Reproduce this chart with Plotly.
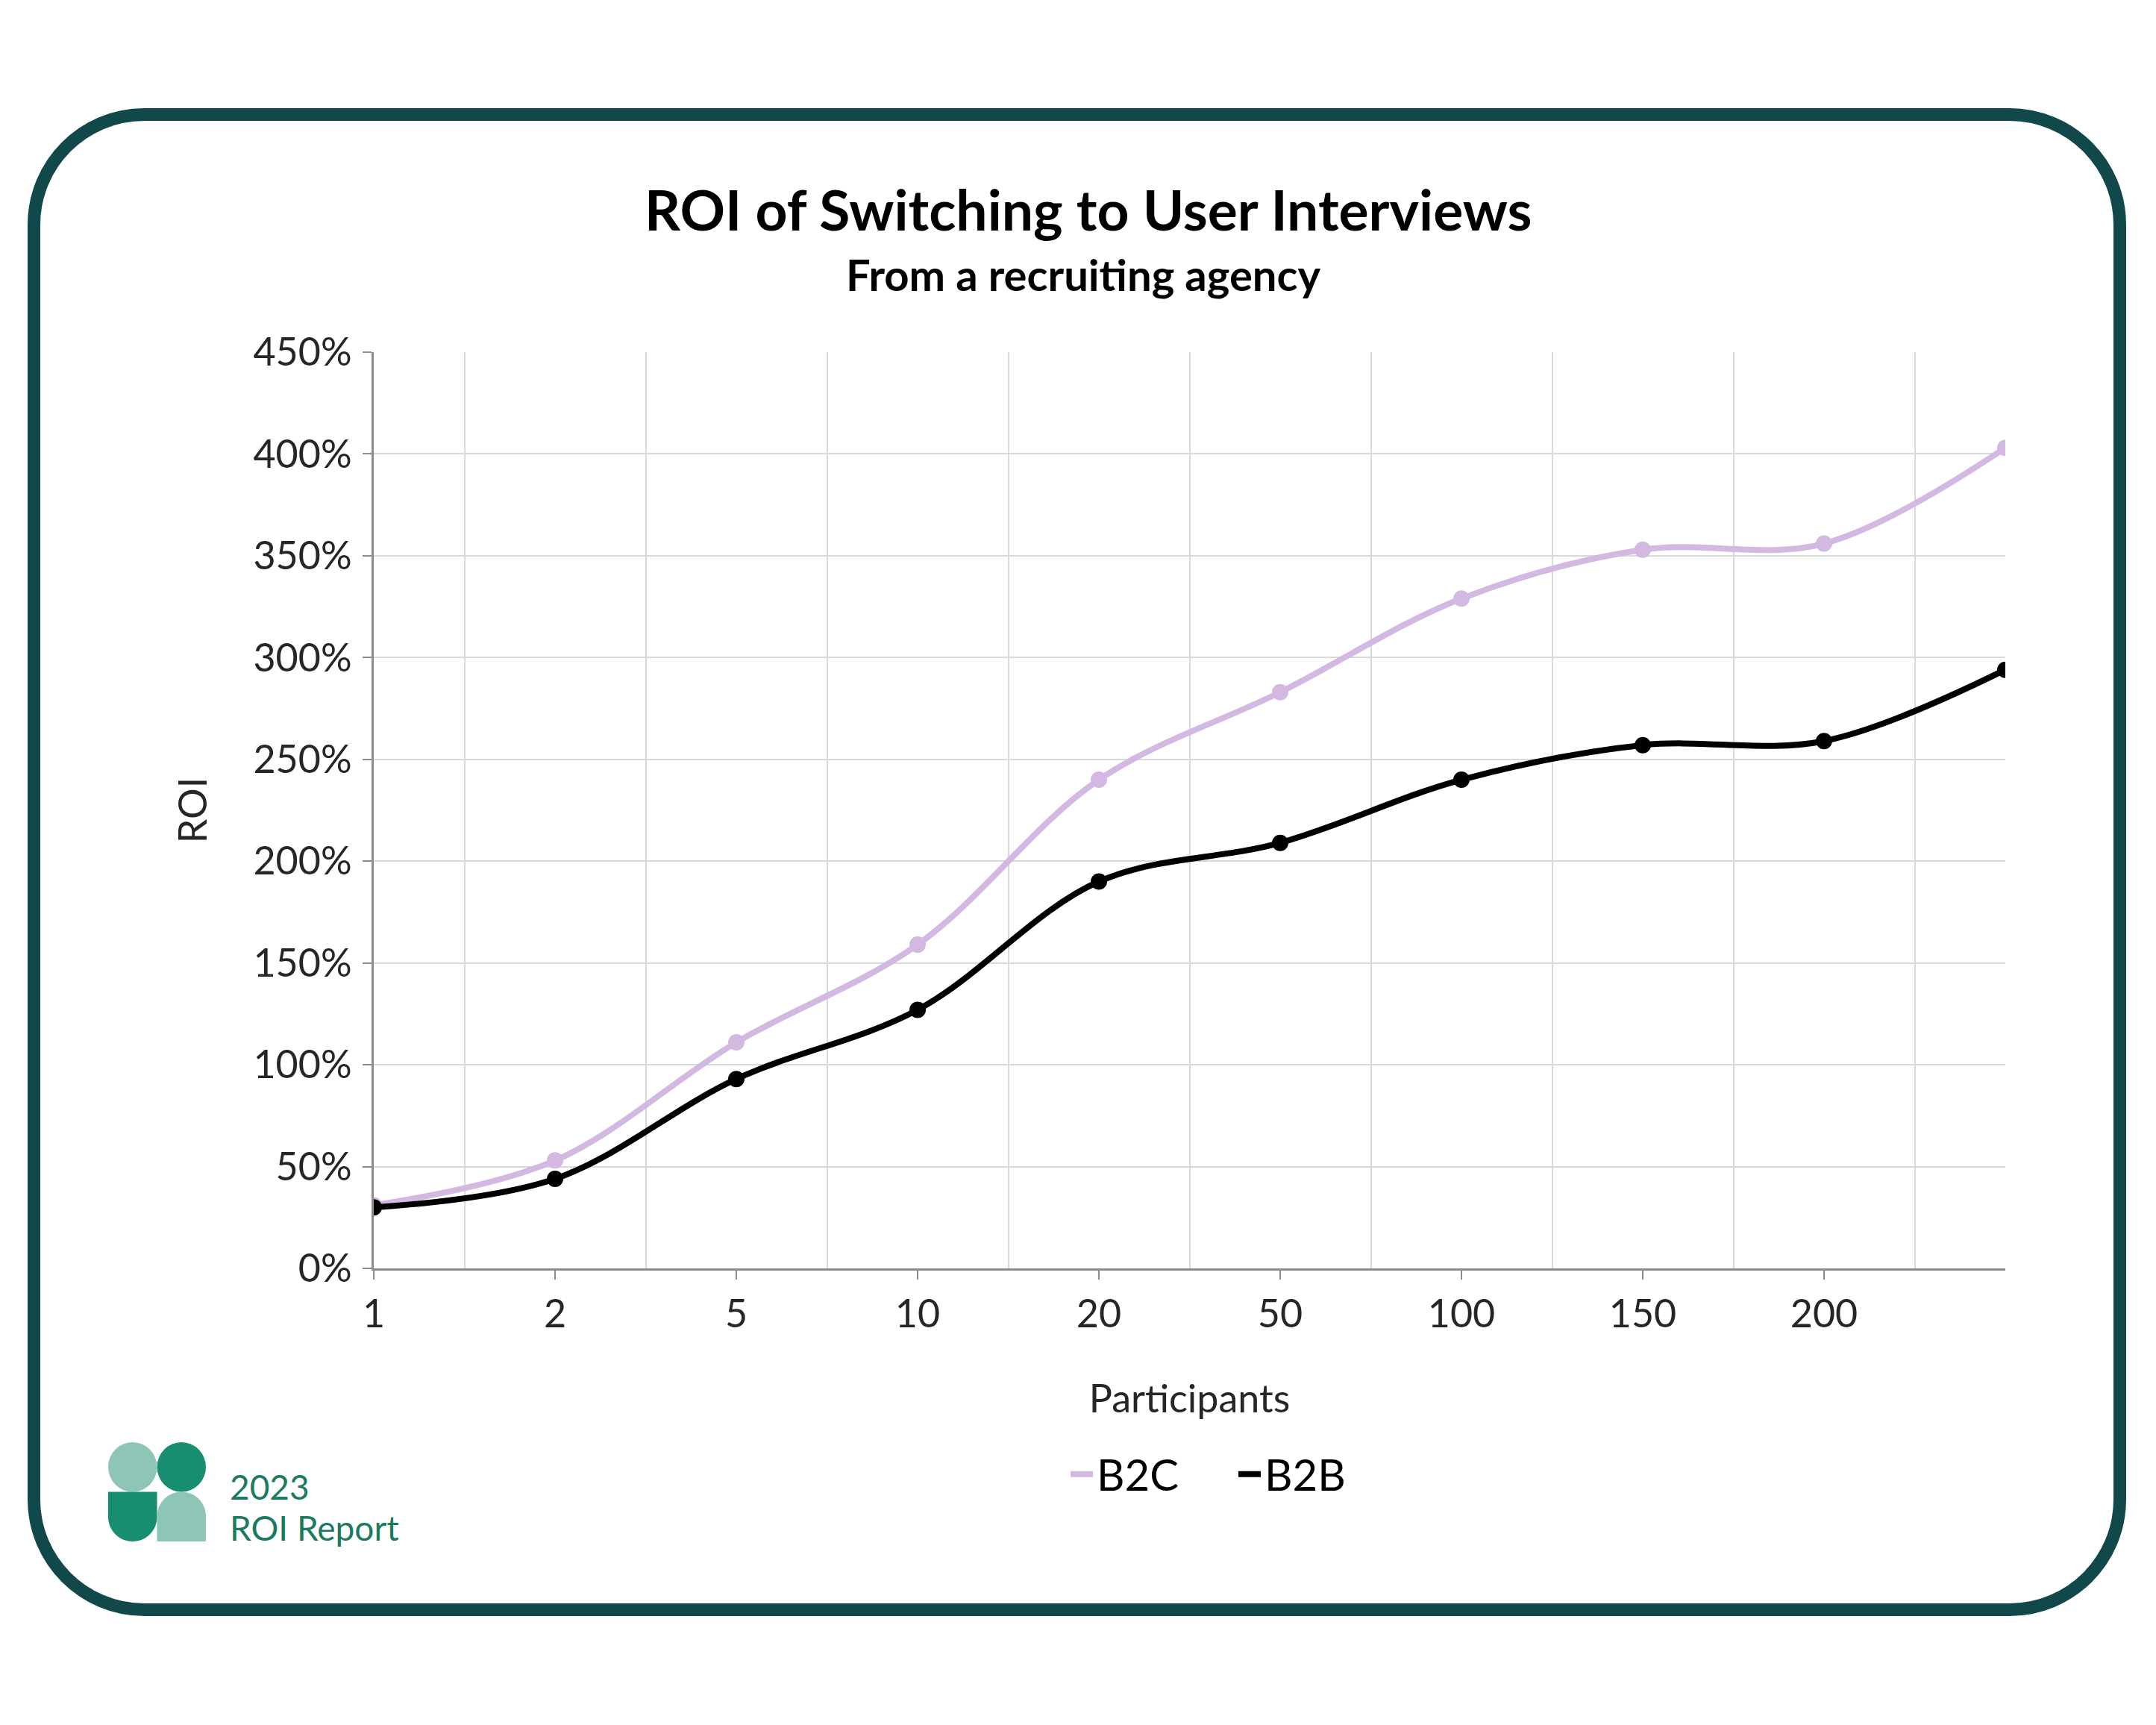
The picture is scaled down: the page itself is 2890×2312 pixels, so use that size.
import plotly.graph_objects as go

# ---- data ----
participants = ["1", "2", "5", "10", "20", "50", "100", "150", "200"]
positions = [0, 1, 2, 3, 4, 5, 6, 7, 8, 9]
b2c = [31, 53, 111, 159, 240, 283, 329, 353, 356, 403]
b2b = [30, 44, 93, 127, 190, 209, 240, 257, 259, 294]
y_ticks = [0, 50, 100, 150, 200, 250, 300, 350, 400, 450]

PURPLE = "#d3b9e2"
BLACK = "#000000"
TEAL = "#11484a"
LOGO_LIGHT = "#8dc6b6"
LOGO_DARK = "#178e6f"
FONT = "Lato"

WIDTH, HEIGHT = 2890, 2312
L, R, T, B = 501, 2688, 472, 1700
W, H = R - L, B - T


def px(x):
    return (x - L) / W


def py(y):
    return (B - y) / H


def P(x, y):
    return f"{px(x):.5f},{py(y):.5f}"


def rounded_rect(x0, y0, x1, y1, r):
    k = 0.5523 * r
    return (
        f"M{P(x0 + r, y0)} L{P(x1 - r, y0)} "
        f"C{P(x1 - r + k, y0)} {P(x1, y0 + r - k)} {P(x1, y0 + r)} "
        f"L{P(x1, y1 - r)} "
        f"C{P(x1, y1 - r + k)} {P(x1 - r + k, y1)} {P(x1 - r, y1)} "
        f"L{P(x0 + r, y1)} "
        f"C{P(x0 + r - k, y1)} {P(x0, y1 - r + k)} {P(x0, y1 - r)} "
        f"L{P(x0, y0 + r)} "
        f"C{P(x0, y0 + r - k)} {P(x0 + r - k, y0)} {P(x0 + r, y0)} Z"
    )


fig = go.Figure()
for name, vals, color in [("B2C", b2c, PURPLE), ("B2B", b2b, BLACK)]:
    fig.add_trace(go.Scatter(
        x=positions, y=vals, name=name, mode="lines", legendgroup=name,
        line=dict(color=color, width=8, shape="spline", smoothing=1),
    ))
    fig.add_trace(go.Scatter(
        x=positions, y=vals, name=name, mode="markers", legendgroup=name,
        showlegend=False, marker=dict(size=22, color=color),
    ))

shapes = []
# outer rounded border
shapes.append(dict(type="path", xref="paper", yref="paper",
                   path=rounded_rect(45.5, 153.5, 2841.5, 2157.5, 148),
                   line=dict(color=TEAL, width=17), fillcolor="rgba(0,0,0,0)"))

# logo
cx_l0, cx_l1, cx_r1 = 145, 210.5, 276
cy_top, cy_mid, cy_bot = 1933, 1999.5, 2066
shapes.append(dict(type="circle", xref="paper", yref="paper",
                   x0=px(cx_l0), x1=px(cx_l1), y0=py(cy_mid), y1=py(cy_top),
                   fillcolor=LOGO_LIGHT, line=dict(width=0)))
shapes.append(dict(type="circle", xref="paper", yref="paper",
                   x0=px(cx_l1), x1=px(cx_r1), y0=py(cy_mid), y1=py(cy_top),
                   fillcolor=LOGO_DARK, line=dict(width=0)))
r = (cx_l1 - cx_l0) / 2
k = 0.5523 * r
mx = (cx_l0 + cx_l1) / 2
u_path = (f"M{P(cx_l0, cy_mid)} L{P(cx_l1, cy_mid)} L{P(cx_l1, cy_bot - r)} "
          f"C{P(cx_l1, cy_bot - r + k)} {P(mx + k, cy_bot)} {P(mx, cy_bot)} "
          f"C{P(mx - k, cy_bot)} {P(cx_l0, cy_bot - r + k)} {P(cx_l0, cy_bot - r)} Z")
shapes.append(dict(type="path", xref="paper", yref="paper", path=u_path,
                   fillcolor=LOGO_DARK, line=dict(width=0)))
r2 = (cx_r1 - cx_l1) / 2
k2 = 0.5523 * r2
mx2 = (cx_l1 + cx_r1) / 2
a_path = (f"M{P(cx_l1, cy_bot)} L{P(cx_l1, cy_mid + r2)} "
          f"C{P(cx_l1, cy_mid + r2 - k2)} {P(mx2 - k2, cy_mid)} {P(mx2, cy_mid)} "
          f"C{P(mx2 + k2, cy_mid)} {P(cx_r1, cy_mid + r2 - k2)} {P(cx_r1, cy_mid + r2)} "
          f"L{P(cx_r1, cy_bot)} Z")
shapes.append(dict(type="path", xref="paper", yref="paper", path=a_path,
                   fillcolor=LOGO_LIGHT, line=dict(width=0)))

annotations = [
    dict(text="<b>ROI of Switching to User Interviews</b>", x=px(1458), y=py(280),
         xref="paper", yref="paper", showarrow=False, xanchor="center", yanchor="middle",
         font=dict(family=FONT, size=75, color="#000000")),
    dict(text="<b>From a recruiting agency</b>", x=px(1452), y=py(368),
         xref="paper", yref="paper", showarrow=False, xanchor="center", yanchor="middle",
         font=dict(family=FONT, size=58, color="#000000")),
    dict(text="2023", x=px(306), y=py(1992), xref="paper", yref="paper", showarrow=False,
         xanchor="left", yanchor="middle", font=dict(family=FONT, size=46, color="#1c7a60")),
    dict(text="ROI Report", x=px(306), y=py(2047), xref="paper", yref="paper", showarrow=False,
         xanchor="left", yanchor="middle", font=dict(family=FONT, size=46, color="#1c7a60")),
]

fig.update_layout(
    width=WIDTH, height=HEIGHT,
    margin=dict(l=L, r=WIDTH - R, t=T, b=HEIGHT - B, autoexpand=False),
    paper_bgcolor="white", plot_bgcolor="white",
    font=dict(family=FONT, color="#262626"),
    shapes=shapes, annotations=annotations,
    showlegend=True,
    legend=dict(orientation="h", x=px(1655), y=py(1976), xanchor="center", yanchor="middle",
                font=dict(family=FONT, size=58, color="#000000"),
                entrywidth=180, entrywidthmode="pixels",
                bgcolor="rgba(0,0,0,0)", traceorder="normal"),
    xaxis=dict(
        range=[0, 9], tickmode="array", tickvals=positions[:len(participants)],
        ticktext=participants, showgrid=False, zeroline=False,
        ticks="outside", ticklen=12, tickwidth=2, tickcolor="#8c8c8c",
        showline=True, linecolor="#8c8c8c", linewidth=3,
        tickfont=dict(family=FONT, size=52, color="#262626"),
        ticklabelstandoff=2,
        minor=dict(tickmode="array", tickvals=[i + 0.5 for i in range(9)],
                   showgrid=True, gridcolor="#d9d9d9", gridwidth=2, ticklen=0),
        title=dict(text="Participants", font=dict(family=FONT, size=52, color="#262626"),
                   standoff=68),
        automargin=False,
    ),
    yaxis=dict(
        range=[0, 450], tickmode="array", tickvals=y_ticks,
        ticktext=[f"{v}%" for v in y_ticks],
        showgrid=True, gridcolor="#d9d9d9", gridwidth=2, zeroline=False,
        ticks="outside", ticklen=12, tickwidth=2, tickcolor="#8c8c8c",
        showline=True, linecolor="#8c8c8c", linewidth=3,
        tickfont=dict(family=FONT, size=52, color="#262626"),
        ticklabelstandoff=4,
        title=dict(text="ROI", font=dict(family=FONT, size=52, color="#262626"),
                   standoff=46),
        automargin=False,
    ),
)

fig.write_html("out.html")
